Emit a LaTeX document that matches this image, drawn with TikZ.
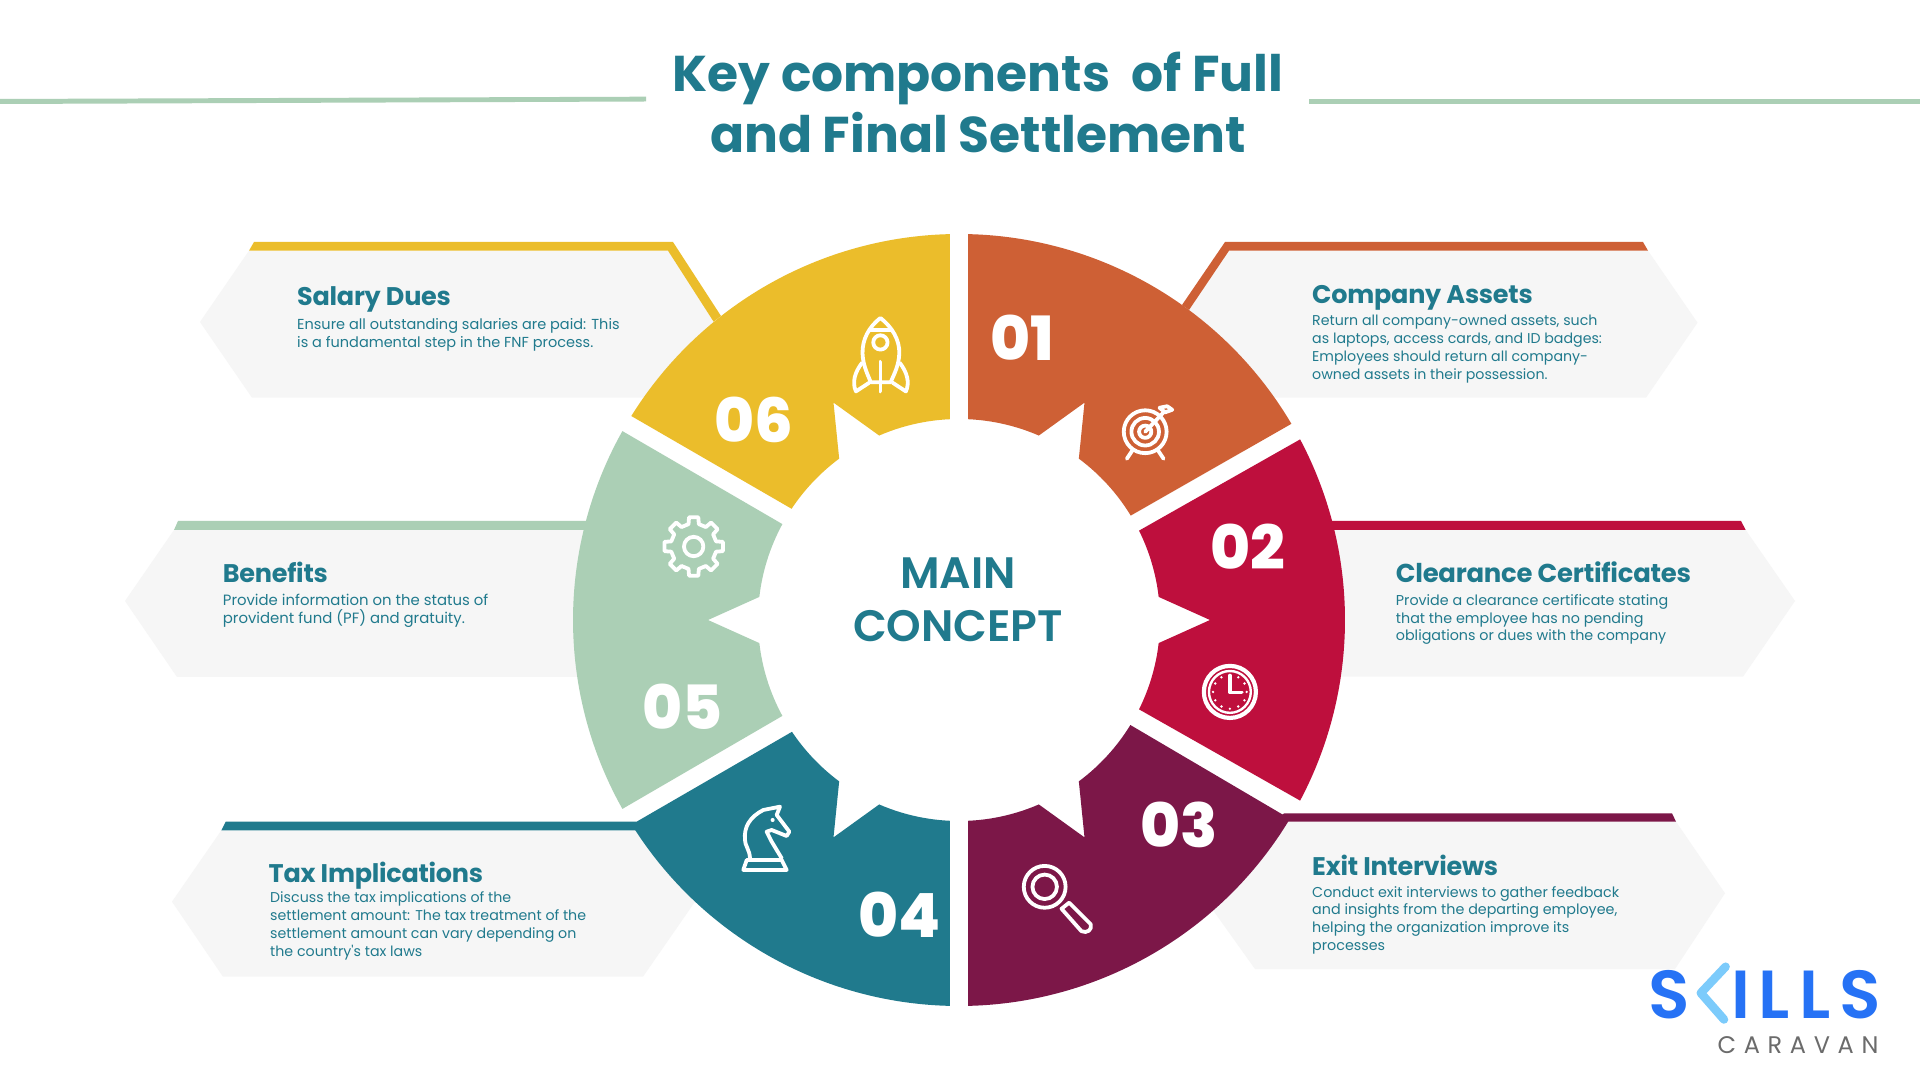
\documentclass[tikz,border=0pt]{standalone}
\usepackage{fontspec}
\setmainfont{Poppins}
\newfontfamily\bodyfont{Poppins}
\newfontfamily\boldfont{Poppins}[UprightFont=*-Bold]
\newfontfamily\headfont{Poppins}[UprightFont=*-Bold,LetterSpace=-1]
\newfontfamily\semifont{Poppins}[UprightFont=*-SemiBold]
\newfontfamily\logotight{Poppins}[UprightFont=*-SemiBold,LetterSpace=13]
\newfontfamily\heavyfont{Poppins}[UprightFont=*-ExtraBold]
\newfontfamily\logofont{Poppins}[LetterSpace=32]
\definecolor{litegrey}{rgb}{0.965,0.965,0.965}
\definecolor{titleteal}{rgb}{0.125,0.478,0.553}
\definecolor{segorange}{rgb}{0.808,0.376,0.208}
\definecolor{segred}{rgb}{0.745,0.059,0.239}
\definecolor{segplum}{rgb}{0.486,0.090,0.282}
\definecolor{segteal}{rgb}{0.125,0.478,0.553}
\definecolor{seggreen}{rgb}{0.671,0.812,0.710}
\definecolor{segyellow}{rgb}{0.922,0.741,0.169}
\definecolor{logoblue}{rgb}{0.149,0.447,0.961}
\definecolor{logolite}{rgb}{0.486,0.796,0.984}
\definecolor{logogrey}{rgb}{0.42,0.42,0.42}
\newcommand{\wedgepiece}[6]{\fill[#1] (#3:386) arc[start angle=#3,end angle=#4,radius=386] -- (#5:201) arc[start angle=#5,end angle=#2-6.6,radius=201] -- (#2:251) -- ({#2+6.6}:201) arc[start angle=#2+6.6,end angle=#6,radius=201] -- cycle;}
\tikzset{
	headtext/.style={anchor=base west,inner sep=0pt,text=titleteal,font=\headfont\fontsize{25.5}{28}\selectfont},
	bodytext/.style={anchor=north west,inner sep=0pt,align=left,text=titleteal,font=\bodyfont\fontsize{14.2}{17.7}\selectfont},
	numtext/.style={anchor=base,inner sep=0pt,text=white,font=\heavyfont\fontsize{61}{70}\selectfont},
	icon/.style={draw=white,line width=3.8pt,fill=none},
}
\begin{document}
\begin{tikzpicture}[line cap=round,line join=round,x=1pt,y=1pt]
	\useasboundingbox (0,0) rectangle (1920,1080);
	\fill [white] (0,0) rectangle (1920,1080);
	% rules
	\fill [seggreen] (0,981) -- (646,983.3) -- (646,978.5) -- (0,976) -- cycle;
	\fill [seggreen] (1309,981) rectangle (1920,976);
	\node (maintitle) at (978,1028.5) [anchor=north,inner sep=0pt,align=center,text=titleteal,font=\boldfont\fontsize{50.3}{61}\selectfont] {Key components\ \ of Full\\and Final Settlement};
	% panels
	\fill [litegrey] (1229,829.3) -- (1648,829.3) -- (1697.5,757.3) -- (1646,682.3) -- (1229,682.3) -- (1180,757.3) -- cycle;
	\fill [litegrey] (1300,550) -- (1745.7,550) -- (1795,479) -- (1743,403.3) -- (1300,403.3) -- cycle;
	\fill [litegrey] (1250,258.3) -- (1676,258.3) -- (1725,186.7) -- (1675,111) -- (1255,111) -- (1201,186.7) -- cycle;
	\fill [litegrey] (221.4,249.7) -- (640,249.7) -- (695,178.3) -- (643,103.3) -- (223,103.3) -- (172,178.3) -- cycle;
	\fill [litegrey] (174,550) -- (600,550) -- (600,403) -- (177,403) -- (125,479) -- cycle;
	\fill [litegrey] (249,829.3) -- (668,829.3) -- (713.6,758) -- (665,682.3) -- (252,682.3) -- (200,758) -- cycle;
	% bars
	\fill [segorange] (1225,838) -- (1643,838) -- (1648,829.3) -- (1229,829.3) -- (1189,770) -- (1182,775) -- cycle;
	\fill [segred] (1300,559) -- (1741,559) -- (1745.7,550) -- (1300,550) -- cycle;
	\fill [segplum] (1284,266.7) -- (1672,266.7) -- (1676,258.3) -- (1275,258.3) -- cycle;
	\fill [segteal] (225.7,258.3) -- (636,258.3) -- (640,249.7) -- (221.4,249.7) -- cycle;
	\fill [seggreen] (178,559) -- (600,559) -- (600,550) -- (174,550) -- cycle;
	\fill [segyellow] (254,838) -- (673,838) -- (721,764) -- (713.6,758.3) -- (668,829.3) -- (249,829.3) -- cycle;
	% wheel
	\begin{scope}[shift={(959,460)}]
		\wedgepiece{segorange}{60}{88.66}{30.55}{31.3}{87.4}
		\wedgepiece{segred}{0}{27.9}{-27.9}{-26.4}{26.4}
		\wedgepiece{segplum}{-60}{-31}{-88.66}{-87.4}{-31.5}
		\wedgepiece{segteal}{-120}{-91.34}{-148}{-146.2}{-92.6}
		\wedgepiece{seggreen}{180}{209.3}{150.7}{151.5}{208.5}
		\wedgepiece{segyellow}{120}{148.1}{91.34}{92.6}{146.4}
	\end{scope}
	\node (mainconcept) at (958,522.8) [anchor=north,inner sep=0pt,align=center,text=titleteal,font=\semifont\fontsize{44}{53.7}\selectfont] {MAIN\\CONCEPT};
	% numbers
	\node (numone) at (1022.2,719.2) [numtext] {01};
	\node (numtwo) at (1247.5,510) [numtext] {02};
	\node (numthree) at (1179,232.5) [numtext] {03};
	\node (numfour) at (899.5,143) [numtext] {04};
	\node (numfive) at (682.5,350.4) [numtext] {05};
	\node (numsix) at (753.5,637) [numtext] {06};
	% texts
	\node (assetshead) at (1312,776.7) [headtext] {Company Assets};
	\node (assetsbody) at (1312,764.8) [bodytext] {Return all company-owned assets, such\\as laptops, access cards, and ID badges:\\Employees should return all company-\\owned assets in their possession.};
	\node (clearhead) at (1395.7,497) [headtext,font=\headfont\fontsize{25.9}{28}\selectfont] {Clearance Certificates};
	\node (clearbody) at (1395.7,485.8) [bodytext,font=\bodyfont\fontsize{14.3}{17.7}\selectfont] {Provide a clearance certificate stating\\that the employee has no pending\\obligations or dues with the company};
	\node (exithead) at (1312,205) [headtext] {Exit Interviews};
	\node (exitbody) at (1312,194.1) [bodytext,font=\bodyfont\fontsize{14.3}{17.7}\selectfont] {Conduct exit interviews to gather feedback\\and insights from the departing employee,\\helping the organization improve its\\processes};
	\node (taxhead) at (268.5,197.7) [headtext] {Tax Implications};
	\node (taxbody) at (270,188.1) [bodytext] {Discuss the tax implications of the\\settlement amount: The tax treatment of the\\settlement amount can vary depending on\\the country's tax laws};
	\node (benefithead) at (222.7,497) [headtext] {Benefits};
	\node (benefitbody) at (222.7,485.6) [bodytext,font=\bodyfont\fontsize{14.9}{17.7}\selectfont] {Provide information on the status of\\provident fund (PF) and gratuity.};
	\node (salaryhead) at (297,774) [headtext] {Salary Dues};
	\node (salarybody) at (297,761.8) [bodytext,font=\bodyfont\fontsize{14.5}{18}\selectfont] {Ensure all outstanding salaries are paid: This\\is a fundamental step in the FNF process.};
	% icons
	\begin{scope}[shift={(560,860)},x=0.5102pt,y=-0.5102pt]
		% rocket
		\draw [icon] (628,192) .. controls (605,210) and (592,235) .. (593,262) .. controls (594,285) and (602,300) .. (609,318) -- (648,318) .. controls (656,300) and (664,285) .. (665,262) .. controls (666,235) and (651,210) .. (628,192) -- cycle;
		\draw [icon] (607,216) -- (650,216);
		\draw [icon] (628,240) circle (14);
		\draw [icon] (628,278) -- (628,336);
		\draw [icon] (592,280) .. controls (578,298) and (572,318) .. (580,336) -- (606,319);
		\draw [icon] (666,280) .. controls (680,298) and (686,318) .. (678,336) -- (652,319);
		% target
		\draw [icon] (1147,415) circle (42);
		\draw [icon] (1147,415) circle (27);
		\draw [icon] (1147,415) circle (12);
		\draw [icon] (1147,415) -- (1185,375);
		\draw [icon] (1175,368) -- (1186,377) -- (1200,372) -- (1190,365) -- (1175,368);
		\draw [icon] (1123,450) -- (1111,468);
		\draw [icon] (1171,450) -- (1183,468);
		% clock
		\begin{scope}[shift={(1313,925)}]
			\draw [icon,line width=4.2pt] (0,0) circle (51);
			\draw [icon,line width=2.4pt] (0,0) circle (41);
			\draw [icon] (0,-32) -- (0,1) -- (23,1);
			\foreach \a in {30,60,...,360} \fill [white] (\a:33) circle (2.6);
		\end{scope}
		% gear
		\begin{scope}[shift={(262,640)}]
			\draw [icon] (-13:45) \foreach \a in {0,45,...,315} {-- (\a-13:45) -- (\a-9:58) -- (\a+9:58) -- (\a+13:45)} -- cycle;
			\draw [icon] (0,0) circle (19);
		\end{scope}
		% knight
		\draw [icon] (372.4,1251) .. controls (372,1235) and (362,1225) .. (362.6,1215.2) .. controls (360,1190) and (372,1170) .. (398.5,1156.4) -- (431.2,1149.9) -- (424.7,1166.2) -- (449.5,1198.9) -- (444.3,1207.4) -- (431.2,1202.1) -- (414.9,1195.6) -- (405,1198.9) -- (414.9,1218.5) -- (434.5,1251);
		\draw [icon] (359.3,1274) -- (444.3,1274) -- (434.5,1254.4) -- (365.9,1254.4) -- cycle;
		\fill [white] (416.8,1176) circle (4);
		% magnifier
		\draw [icon] (950,1307) circle (41);
		\draw [icon] (950,1307) circle (24);
		\draw [icon] (983,1350) -- (998,1338) -- (1040,1380) .. controls (1044,1391) and (1033,1399) .. (1022,1394) -- cycle;
	\end{scope}
	% logo
	\node (logos) at (1669.3,62) [anchor=base,inner sep=0pt,text=logoblue,font=\semifont\fontsize{68}{70}\selectfont] {S};
	\node (logoills) at (1731,62) [anchor=base west,inner sep=0pt,text=logoblue,font=\logotight\fontsize{68}{70}\selectfont] {ILLS};
	\draw [logolite,line width=8.5pt] (1725.6,113.3) -- (1700.8,87) -- (1724,60.5);
	\node (logocaravan) at (1798,27) [anchor=base,inner sep=0pt,text=logogrey,font=\logofont\fontsize{24}{26}\selectfont] {CARAVAN};
\end{tikzpicture}
\end{document}
